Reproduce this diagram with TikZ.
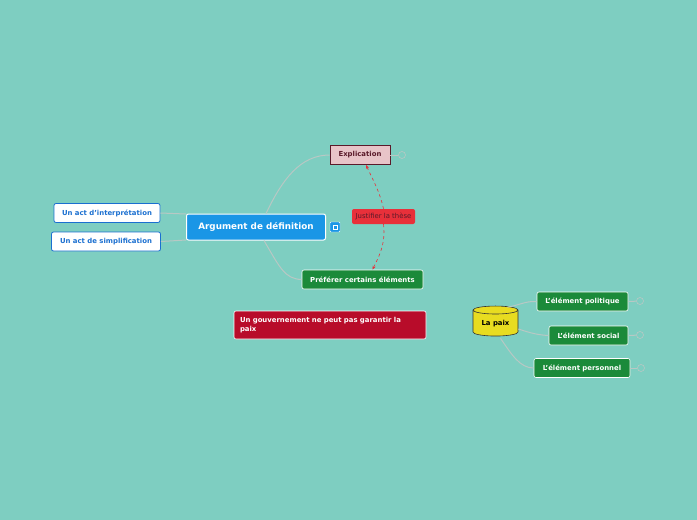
\documentclass[tikz,border=0pt]{standalone}
\usepackage{fontspec}
\setmainfont{DejaVu Sans}
\usetikzlibrary{shapes.geometric,arrows.meta}
\definecolor{bg}{HTML}{7ECEC1}
\definecolor{mainblue}{HTML}{1A96E6}
\definecolor{linkblue}{HTML}{1A6FD0}
\definecolor{greenbox}{HTML}{1B8A3A}
\definecolor{darkred}{HTML}{B80C2A}
\definecolor{brightred}{HTML}{E8303A}
\definecolor{pinkbox}{HTML}{E8C4C8}
\definecolor{pinkborder}{HTML}{5A1A2A}
\definecolor{yellowbox}{HTML}{E8DC20}
\definecolor{conn}{HTML}{B8C8C4}
\begin{document}
\begin{tikzpicture}[x=1pt,y=-1pt,
  txt/.style={font=\bfseries\fontsize{6.9}{8.2}\selectfont},
  whitebox/.style={txt,draw=linkblue,fill=white,text=linkblue,rounded corners=2pt,line width=0.8pt,minimum height=19pt,inner xsep=3pt},
  greenb/.style={txt,draw=white,fill=greenbox,text=white,rounded corners=2pt,line width=0.6pt,minimum height=19pt,inner xsep=3pt},
  conline/.style={draw=conn,line width=1pt},
  dasharrow/.style={draw=brightred,dashed,line width=0.6pt,-{Stealth[length=4pt]}},
  knob/.style={draw=conn,circle,minimum size=7pt,inner sep=0pt,line width=0.6pt}]
\fill[bg] (0,0) rectangle (697,520);
\useasboundingbox (0,0) rectangle (697,520);

\node[txt,draw=white,fill=mainblue,text=white,rounded corners=2pt,line width=1pt,minimum width=139pt,minimum height=26pt,font=\bfseries\fontsize{8.8}{10.5}\selectfont] (arg) at (256,227) {Argument de définition};
\node[fill=mainblue,draw=white,line width=0.4pt,minimum size=10pt,inner sep=0pt,rounded corners=1pt] (icon) at (335,227) {};
\draw[white,line width=0.5pt] (333,225) rectangle (337,229.5);

\node[txt,draw=pinkborder,fill=pinkbox,text=pinkborder,line width=0.7pt,minimum width=60pt,minimum height=19pt] (expl) at (360,155) {Explication};
\node[knob] (k0) at (402,155) {};
\node[whitebox,minimum width=106pt] (interp) at (107,213) {Un act d'interprétation};
\node[whitebox,minimum width=109pt] (simpl) at (106,241.5) {Un act de simplification};
\node[txt,fill=brightred,text=pinkborder,rounded corners=2pt,minimum width=63pt,minimum height=15pt,font=\fontsize{6.9}{8.2}\selectfont] (just) at (383.5,216.5) {Justifier la thèse};
\node[greenb,minimum width=121pt] (pref) at (362.5,279.5) {Préférer certains éléments};
\node[txt,draw=white,fill=darkred,text=white,rounded corners=2pt,line width=0.6pt,minimum width=192pt,minimum height=28pt,align=left,text width=180pt] (gouv) at (330,325) {Un gouvernement ne peut pas garantir la\\paix};

\node[txt,shape=cylinder,shape border rotate=90,aspect=0.25,draw=black!80,fill=yellowbox,text=black,minimum width=45pt,minimum height=30pt,line width=0.6pt,inner sep=2pt] (paix) at (495.5,324) {La paix};
\node[greenb,minimum width=91pt] (pol) at (582.5,301.5) {L'élément politique};
\node[greenb,minimum width=79pt] (soc) at (588.5,335.5) {L'élément social};
\node[greenb,minimum width=96pt] (pers) at (582,368) {L'élément personnel};
\node[knob] (k1) at (640,301) {};
\node[knob] (k2) at (640,335) {};
\node[knob] (k3) at (641,368) {};

\draw[conline] ([xshift=10pt]arg.north) .. controls (282,180) and (300,155) .. (expl.west);
\draw[conline] ([xshift=8pt]arg.south) .. controls (280,268) and (285,279) .. (pref.west);
\draw[conline] ([yshift=13pt]arg.west) -- (interp.east);
\draw[conline] ([yshift=-13pt]arg.west) -- (simpl.east);
\draw[conline] (expl.east) -- (k0);
\draw[conline] ([xshift=-5pt]paix.north east) .. controls (520,305) and (525,301) .. (pol.west);
\draw[conline] ([yshift=-5pt]paix.east) .. controls (525,331) and (535,335) .. (soc.west);
\draw[conline] ([xshift=5pt,yshift=-2pt]paix.south) .. controls (512,355) and (520,368) .. (pers.west);
\draw[conline] (pol.east) -- (k1);
\draw[conline] (soc.east) -- (k2);
\draw[conline] (pers.east) -- (k3);

\draw[dasharrow] (just.north) .. controls (380,192) and (372,178) .. ([xshift=6pt]expl.south);
\draw[dasharrow] (just.south) .. controls (386,245) and (378,258) .. ([xshift=10pt]pref.north);
\end{tikzpicture}
\end{document}
